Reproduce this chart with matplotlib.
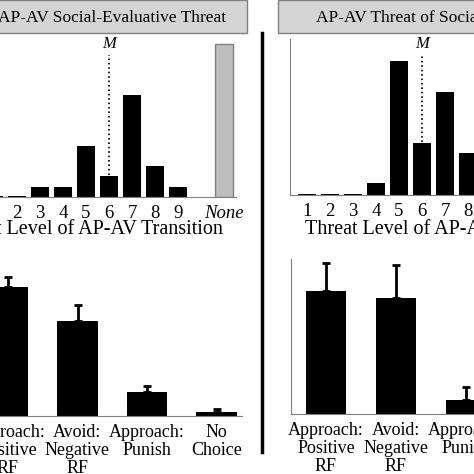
import matplotlib
matplotlib.use("Agg")
import matplotlib.pyplot as plt
from matplotlib.patches import Rectangle

plt.rcParams['font.family'] = ['Liberation Serif', 'DejaVu Serif']

levels = [1, 2, 3, 4, 5, 6, 7, 8, 9]
left_hist = [1, 1, 10, 10, 51, 21, 102, 31, 10]
left_none = 153
right_hist = [1, 1, 1, 12, 134, 52, 103, 42, 0]
mean_level = 6

choices = ["Approach:\nPositive\nRF", "Avoid:\nNegative\nRF", "Approach:\nPunish", "No\nChoice"]
left_means = [129, 95, 24, 4]
left_err = [10, 16, 6, 3]
right_means = [123, 116, 14, 3]
right_err = [28, 33, 13, 3]

W = H = 474
fig = plt.figure(figsize=(4.74, 4.74), dpi=100)

def px_axes(x0, y_top, x1, y_bot):
    return fig.add_axes([x0 / W, 1 - y_bot / H, (x1 - x0) / W, (y_bot - y_top) / H])

gray = '#808080'

def style(ax, left_spine, size=13.5):
    for s in ['top', 'right']:
        ax.spines[s].set_visible(False)
    ax.spines['left'].set_visible(left_spine)
    ax.spines['bottom'].set_color(gray)
    ax.spines['left'].set_color(gray)
    ax.set_yticks([])
    ax.tick_params(axis='x', length=0, labelsize=size, pad=6)
    ax.patch.set_alpha(0)

# Title boxes
for (x0, x1) in [(-5, 247), (278, 480)]:
    fig.patches.append(Rectangle((x0 / W, 1 - 33 / H), (x1 - x0) / W, 33 / H,
                                 transform=fig.transFigure, facecolor='#d4d4d4',
                                 edgecolor=gray, lw=1))
fig.text(112 / W, 1 - 18 / H, "AP-AV Social-Evaluative Threat", ha='center', va='center', fontsize=12.5)
fig.text(316 / W, 1 - 18 / H, "AP-AV Threat of Social Aggression", ha='left', va='center', fontsize=12.5)

# Divider
fig.add_artist(plt.Line2D([262 / W, 262 / W], [1 - 33 / H, 1 - 452 / H], color='black', lw=2.5,
                          transform=fig.transFigure))

# Top-left histogram
ax1 = px_axes(-17.5, 37, 235.5, 197)
ax1.bar(levels, left_hist, width=0.82, color='black')
ax1.bar([11], [left_none], width=0.82, color='#bdbdbd', edgecolor=gray, lw=1)
ax1.set_xlim(0.5, 11.5)
ax1.set_ylim(0, 160)
ax1.plot([mean_level, mean_level], [0, 142], ls=':', color='black', lw=1.2)
ax1.text(mean_level, 145, "M", ha='center', va='bottom', fontsize=12, style='italic')
ax1.set_xticks(levels + [11])
ax1.set_xticklabels([str(l) for l in levels] + ["None"])
ax1.get_xticklabels()[-1].set_style('italic')
style(ax1, False)
fig.text(223 / W, 1 - 229 / H, "Threat Level of AP-AV Transition", ha='right', va='center', fontsize=14.5)

# Top-right histogram
ax2 = px_axes(290, 39, 548.5, 195)
ax2.bar(levels, right_hist, width=0.82, color='black')
ax2.set_xlim(1 - 17 / 23, 11.5)
ax2.set_ylim(0, 156)
ax2.plot([mean_level, mean_level], [0, 140], ls=':', color='black', lw=1.2)
ax2.text(mean_level, 143, "M", ha='center', va='bottom', fontsize=12, style='italic')
ax2.set_xticks(levels)
ax2.set_xticklabels([str(l) for l in levels])
style(ax2, True)
fig.text(305 / W, 1 - 229 / H, "Threat Level of AP-AV Transition", ha='left', va='center', fontsize=14.5)

# Bottom-left
ax3 = px_axes(8 - 0.5 * 69.5, 266, 8 + 3.37 * 69.5, 416)
x = list(range(len(choices)))
ax3.bar(x, left_means, width=0.58, color='black',
        yerr=[[0] * 4, left_err], error_kw=dict(ecolor='black', elinewidth=2, capsize=3, capthick=2))
ax3.set_xlim(-0.5, 3.37)
ax3.set_ylim(0, 150)
ax3.set_xticks(x)
ax3.set_xticklabels(choices, linespacing=1.05)
style(ax3, False, 13)

# Bottom-right
ax4 = px_axes(291, 259, 571, 414)
ax4.bar(x, right_means, width=0.58, color='black',
        yerr=[[0] * 4, right_err], error_kw=dict(ecolor='black', elinewidth=2, capsize=3, capthick=2))
ax4.set_xlim(-0.5, 3.5)
ax4.set_ylim(0, 155)
ax4.set_xticks(x)
ax4.set_xticklabels(choices, linespacing=1.05)
style(ax4, True, 13)

fig.savefig("out.png", dpi=100)
